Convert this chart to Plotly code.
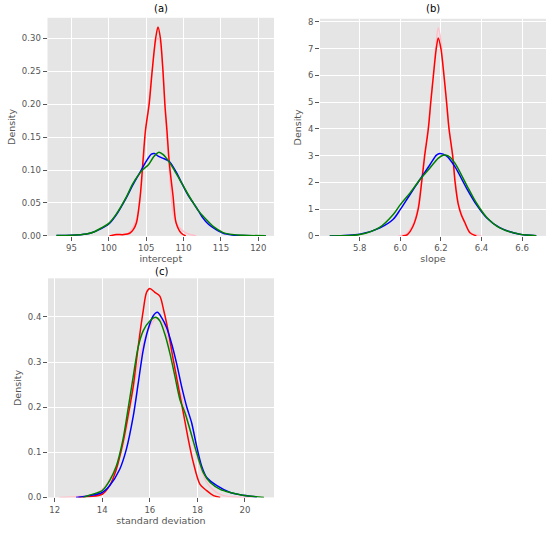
import plotly.graph_objects as go

# ---------------- data: panel (a) intercept ----------------
a_red_x = [100.1, 101, 102, 102.8, 103.3, 103.7, 104.2, 104.55, 104.9, 105.4, 105.8, 106.27, 106.58,
           106.9, 107.25, 107.5, 107.78, 108.1, 108.6, 109.0, 109.7, 110.3]
a_red_y = [0, 0.002, 0.002, 0.004, 0.01, 0.02, 0.06, 0.11, 0.16, 0.20, 0.25, 0.30, 0.317,
           0.30, 0.25, 0.20, 0.16, 0.11, 0.06, 0.02, 0.004, 0]
a_pink_x = [100.0, 101, 102, 102.6, 103.2, 103.9, 104.4, 104.8, 105.3, 105.8, 106.3, 106.6, 106.9,
            107.3, 107.7, 108.1, 108.6, 109.0, 109.5, 110.4, 111.7]
a_pink_y = [0, 0.001, 0.002, 0.004, 0.012, 0.034, 0.08, 0.14, 0.2, 0.25, 0.295, 0.30, 0.29,
            0.24, 0.16, 0.1, 0.034, 0.02, 0.012, 0.004, 0]
a_blue_x = [93.0, 95, 97, 98, 99, 100, 101, 102.3, 103.2, 104.1, 105, 105.7, 106.1, 106.6, 107.2,
            108.1, 109, 109.9, 110.6, 111.3, 112, 112.6, 113.3, 114, 115.3, 116.5, 118, 121]
a_blue_y = [0.0005, 0.001, 0.003, 0.006, 0.011, 0.018, 0.032, 0.057, 0.077, 0.095, 0.113, 0.124,
            0.125, 0.121, 0.118, 0.113, 0.097, 0.077, 0.062, 0.050, 0.038, 0.027, 0.018, 0.012,
            0.004, 0.0015, 0.0005, 0]
a_green_x = [93, 95, 97, 98, 99, 100, 101, 102.3, 103.2, 104, 104.6, 105.3, 106, 106.7, 107.2,
             107.7, 108.6, 109.5, 110.4, 111.3, 112, 112.6, 114, 115.3, 116.5, 118, 121]
a_green_y = [0.0005, 0.001, 0.003, 0.006, 0.012, 0.019, 0.033, 0.058, 0.079, 0.093, 0.101, 0.108,
             0.12, 0.127, 0.124, 0.118, 0.103, 0.085, 0.067, 0.050, 0.038, 0.030, 0.014, 0.005,
             0.002, 0.0008, 0.0002]

# ---------------- data: panel (b) slope ----------------
b_red_x = [6.01, 6.035, 6.063, 6.088, 6.105, 6.12, 6.138, 6.15, 6.163, 6.177, 6.187, 6.2, 6.215,
           6.228, 6.24, 6.258, 6.27, 6.285, 6.3, 6.318, 6.343, 6.375]
b_red_y = [0, 0.05, 0.37, 1.0, 2.0, 3.0, 4.0, 5.0, 6.0, 7.0, 7.4, 7.0, 6.0, 5.0, 4.0, 3.0, 2.0,
           1.2, 0.8, 0.5, 0.12, 0]
b_pink_x = [5.99, 6.03, 6.06, 6.085, 6.103, 6.118, 6.136, 6.149, 6.162, 6.175, 6.187, 6.2, 6.214,
            6.227, 6.24, 6.257, 6.272, 6.287, 6.305, 6.325, 6.355, 6.40]
b_pink_y = [0, 0.08, 0.4, 1.0, 2.0, 3.0, 4.0, 5.0, 6.0, 7.1, 7.78, 7.3, 6.1, 5.0, 4.0, 3.0, 2.0,
            1.2, 0.75, 0.35, 0.08, 0]
b_blue_x = [5.652, 5.8, 5.9, 5.965, 6.0, 6.047, 6.096, 6.145, 6.178, 6.195, 6.227, 6.269, 6.326,
            6.375, 6.425, 6.49, 6.589, 6.67]
b_blue_y = [0, 0.06, 0.3, 0.62, 0.99, 1.54, 2.1, 2.65, 3.02, 3.08, 2.99, 2.59, 1.79, 1.17, 0.68,
            0.31, 0.06, 0.01]
b_green_x = [5.652, 5.8, 5.9, 5.965, 6.0, 6.047, 6.096, 6.145, 6.186, 6.211, 6.236, 6.269, 6.326,
             6.375, 6.425, 6.49, 6.589, 6.67]
b_green_y = [0, 0.05, 0.33, 0.8, 1.17, 1.6, 2.1, 2.53, 2.9, 3.02, 2.99, 2.72, 1.91, 1.23, 0.7,
             0.3, 0.06, 0.01]

# ---------------- data: panel (c) standard deviation ----------------
c_red_x = [13.0, 13.46, 14.0, 14.31, 14.59, 14.87, 15.08, 15.3, 15.44, 15.58, 15.72, 15.86, 16.0,
           16.2, 16.42, 16.59, 16.77, 16.99, 17.2, 17.41, 17.62, 17.83, 18.11, 18.39, 18.68, 18.96]
c_red_y = [0, 0.002, 0.007, 0.026, 0.062, 0.121, 0.179, 0.245, 0.304, 0.362, 0.413, 0.454, 0.463,
           0.455, 0.446, 0.413, 0.369, 0.304, 0.245, 0.187, 0.128, 0.077, 0.029, 0.015, 0.004, 0]
c_pink_x = [12.2, 13.0, 13.6, 14.0, 14.46, 14.88, 15.3, 15.58, 15.86, 16.14, 16.3, 16.56, 16.84,
            16.99, 17.27, 17.55, 17.83, 18.11, 18.39, 18.8, 19.1, 19.6, 20.3]
c_pink_y = [0, 0.002, 0.006, 0.018, 0.055, 0.115, 0.24, 0.31, 0.362, 0.39, 0.398, 0.385, 0.335,
            0.304, 0.238, 0.179, 0.121, 0.069, 0.033, 0.011, 0.004, 0.001, 0]
c_blue_x = [12.9, 13.46, 14.0, 14.31, 14.73, 15.01, 15.3, 15.51, 15.72, 15.93, 16.14, 16.32, 16.49,
            16.7, 16.92, 17.13, 17.34, 17.55, 17.76, 17.97, 18.18, 18.39, 18.82, 19.38, 19.8, 20.5]
c_blue_y = [0, 0.004, 0.011, 0.026, 0.062, 0.106, 0.179, 0.252, 0.326, 0.373, 0.402, 0.41, 0.399,
            0.377, 0.34, 0.296, 0.245, 0.201, 0.165, 0.113, 0.069, 0.044, 0.026, 0.011, 0.006, 0.001]
c_green_x = [13.2, 13.46, 14.0, 14.31, 14.59, 14.87, 15.08, 15.3, 15.51, 15.72, 16.0, 16.25, 16.42,
             16.63, 16.85, 17.06, 17.27, 17.48, 17.69, 17.97, 18.25, 18.54, 18.96, 19.38, 19.9, 20.8]
c_green_y = [0, 0.005, 0.015, 0.037, 0.069, 0.128, 0.194, 0.267, 0.333, 0.369, 0.391, 0.399, 0.391,
             0.362, 0.318, 0.267, 0.216, 0.187, 0.15, 0.099, 0.055, 0.033, 0.018, 0.011, 0.005, 0]

titles = ["(a)", "(b)", "(c)"]
xlabels = ["intercept", "slope", "standard deviation"]
ylabel = "Density"

a_xticks = [95, 100, 105, 110, 115, 120]
a_yticks = [0, 0.05, 0.10, 0.15, 0.20, 0.25, 0.30]
b_xticks = [5.8, 6.0, 6.2, 6.4, 6.6]
b_yticks = [0, 1, 2, 3, 4, 5, 6, 7, 8]
c_xticks = [12, 14, 16, 18, 20]
c_yticks = [0, 0.1, 0.2, 0.3, 0.4]

W, H = 552, 535
FONT = "DejaVu Sans"
GREY = "#555555"

fig = go.Figure()

panels = [
    ("x", "y", [(a_pink_x, a_pink_y, "pink"), (a_red_x, a_red_y, "red"),
                (a_blue_x, a_blue_y, "blue"), (a_green_x, a_green_y, "green")]),
    ("x2", "y2", [(b_pink_x, b_pink_y, "pink"), (b_red_x, b_red_y, "red"),
                  (b_blue_x, b_blue_y, "blue"), (b_green_x, b_green_y, "green")]),
    ("x3", "y3", [(c_pink_x, c_pink_y, "pink"), (c_red_x, c_red_y, "red"),
                  (c_blue_x, c_blue_y, "blue"), (c_green_x, c_green_y, "green")]),
]
for xa, ya, curves in panels:
    for xs, ys, col in curves:
        fig.add_trace(go.Scatter(x=xs, y=ys, mode="lines", xaxis=xa, yaxis=ya,
                                 line=dict(color=col, width=1.5, shape="spline", smoothing=0.8),
                                 showlegend=False, hoverinfo="skip"))

def px_x(p):
    return p / W

def px_y(p):
    return 1 - p / H

common = dict(showgrid=True, gridcolor="white", gridwidth=1.2, zeroline=False,
              ticks="outside", ticklen=4, tickwidth=1, tickcolor=GREY,
              tickfont=dict(family=FONT, size=8.5, color=GREY), showline=False,
              title_font=dict(family=FONT, size=9.5, color=GREY))

fig.update_layout(
    width=W, height=H, margin=dict(l=0, r=0, t=0, b=0),
    paper_bgcolor="white", plot_bgcolor="#E5E5E5", showlegend=False,
    xaxis=dict(domain=[px_x(47.5), px_x(274)], range=[91.8, 122.1], tickvals=a_xticks,
               anchor="y", title=dict(text=xlabels[0], standoff=2), **common),
    yaxis=dict(domain=[px_y(237), px_y(16)], range=[0, 0.331], tickvals=a_yticks, tickformat=".2f",
               anchor="x", title=dict(text=ylabel, standoff=4), **common),
    xaxis2=dict(domain=[px_x(320), px_x(546)], range=[5.604, 6.718], tickvals=b_xticks, tickformat=".1f",
                anchor="y2", title=dict(text=xlabels[1], standoff=2), **common),
    yaxis2=dict(domain=[px_y(237), px_y(17)], range=[0, 8.12], tickvals=b_yticks,
                anchor="x2", title=dict(text=ylabel, standoff=4), **common),
    xaxis3=dict(domain=[px_x(48), px_x(274)], range=[11.72, 21.22], tickvals=c_xticks,
                anchor="y3", title=dict(text=xlabels[2], standoff=2), **common),
    yaxis3=dict(domain=[px_y(502), px_y(280)], range=[0, 0.4854], tickvals=c_yticks, tickformat=".1f",
                anchor="x3", title=dict(text=ylabel, standoff=4), **common),
)

title_pos = [(161, 7), (433, 7), (161, 273)]
for t, (cx, cy) in zip(titles, title_pos):
    fig.add_annotation(text=t, x=px_x(cx), y=px_y(cy), xref="paper", yref="paper",
                       showarrow=False, xanchor="center", yanchor="middle",
                       font=dict(family=FONT, size=10, color="black"))

fig.write_html("out.html", config={"displayModeBar": False},
               post_script="document.body.style.margin='0';document.body.style.overflow='hidden';")
